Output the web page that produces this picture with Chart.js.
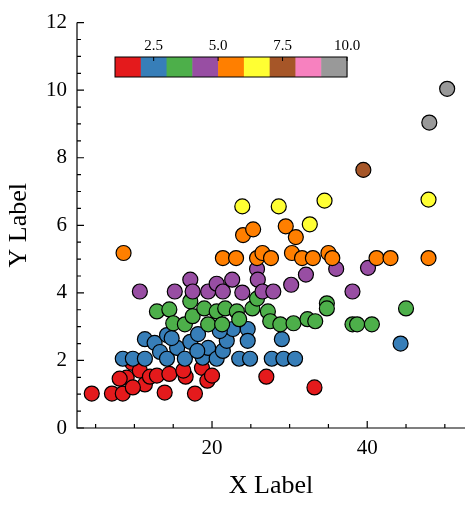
<!DOCTYPE html>
<html>
<head>
<meta charset="utf-8">
<script src="https://cdn.jsdelivr.net/npm/chart.js@4"></script>
<style>
  html, body { margin: 0; padding: 0; background: #fff; }
  #wrap { width: 474px; height: 506px; }
</style>
</head>
<body>
<div id="wrap"><canvas id="chart"></canvas></div>
<script>
// --- Datos ---
const xValues = [
  4.5, 7.1, 8.5, 9.7, 9.0, 10.7, 11.35, 12.0, 12.9, 13.9, 14.5, 16.6, 17.8, 18.7, 19.4, 20.0, 9.8, 27.0, 33.2, 16.3, 8.1,
  8.5, 9.8, 11.35, 11.35, 12.6, 14.2, 13.3, 14.2, 15.5, 16.5, 17.2, 18.2, 18.8, 19.5, 20.6, 21.4, 21.9, 22.7, 24.6, 24.6, 23.5, 24.9, 27.7, 29.0, 29.2, 30.7, 21.0, 18.1, 14.8, 44.3,
  12.9, 14.5, 15.0, 16.5, 17.2, 17.5, 19.0, 19.5, 20.6, 21.3, 21.7, 23.2, 23.5, 25.2, 25.8, 27.2, 27.5, 28.8, 30.5, 32.3, 33.3, 34.8, 34.8, 38.1, 38.7, 40.6, 45.0,
  10.7, 15.2, 17.2, 17.5, 19.5, 20.6, 21.4, 22.6, 23.9, 25.8, 25.9, 26.5, 27.9, 30.2, 32.1, 36.0, 38.1, 40.1,
  21.4, 23.1, 25.8, 26.5, 27.6, 30.3, 31.6, 33.0, 35.0, 35.5, 41.2, 43.0, 47.9, 24.0, 25.3, 29.5, 30.8, 8.6,
  23.9, 28.6, 34.5, 32.6, 47.9,
  39.5,
  48.0, 50.3
];
const yValues = [
  1.02, 1.02, 1.02, 1.93, 1.49, 1.7, 1.29, 1.52, 1.55, 1.05, 1.6, 1.52, 1.02, 1.78, 1.4, 1.55, 1.2, 1.52, 1.2, 1.7, 1.46,
  2.05, 2.05, 2.05, 2.63, 2.52, 2.75, 2.25, 2.05, 2.37, 2.05, 2.55, 2.78, 2.08, 2.37, 2.05, 2.28, 2.58, 2.93, 2.93, 2.58, 2.05, 2.05, 2.05, 2.63, 2.05, 2.05, 2.87, 2.28, 2.66, 2.5,
  3.45, 3.51, 3.1, 3.07, 3.75, 3.31, 3.54, 3.07, 3.45, 3.07, 3.54, 3.45, 3.22, 3.54, 3.83, 3.45, 3.16, 3.07, 3.1, 3.22, 3.16, 3.69, 3.54, 3.07, 3.07, 3.07, 3.54,
  4.04, 4.04, 4.39, 4.04, 4.04, 4.27, 4.04, 4.39, 4.01, 4.71, 4.39, 4.04, 4.04, 4.24, 4.54, 4.71, 4.04, 4.74,
  5.03, 5.03, 5.03, 5.18, 5.03, 5.18, 5.03, 5.03, 5.18, 5.03, 5.03, 5.03, 5.03, 5.71, 5.88, 5.97, 5.65, 5.18,
  6.56, 6.56, 6.73, 6.03, 6.76,
  7.64,
  9.04, 10.04
];
const palette = ["#e41a1c", "#377eb8", "#4daf4a", "#984ea3", "#ff7f00", "#ffff33", "#a65628", "#f781bf", "#999999"];
const colorbarTicks = [2.5, 5.0, 7.5, 10.0];
const xTicks = [20, 40];
const yTicks = [0, 2, 4, 6, 8, 10, 12];

const points = xValues.map((x, i) => ({ x: x, y: yValues[i] }));
const pointColors = yValues.map(y => palette[Math.min(8, Math.max(0, Math.floor(y) - 1))]);

const serif = "'Liberation Serif', 'DejaVu Serif', serif";

// --- Ticks hacia adentro + barra de color ---
const extras = {
  id: "extras",
  afterDraw(chart) {
    const ctx = chart.ctx;
    const a = chart.chartArea;
    const xs = chart.scales.x, ys = chart.scales.y;
    ctx.save();
    ctx.strokeStyle = "#000";
    ctx.lineWidth = 1.2;
    ctx.beginPath();
    ctx.moveTo(a.left, a.top); ctx.lineTo(a.left, a.bottom); ctx.lineTo(a.right, a.bottom);
    ctx.stroke();
    ctx.beginPath();
    for (let v = 5; v < xs.max; v += 5) {
      const p = xs.getPixelForValue(v);
      if (p < a.left) continue;
      const len = v % 20 === 0 ? 7 : 4;
      ctx.moveTo(p, a.bottom); ctx.lineTo(p, a.bottom - len);
    }
    for (let v = 0; v <= 12.001; v += 0.5) {
      const p = ys.getPixelForValue(v);
      const len = Math.abs(v % 2) < 1e-6 ? 7 : 4;
      ctx.moveTo(a.left, p); ctx.lineTo(a.left + len, p);
    }
    ctx.stroke();

    // barra de color
    const cx0 = 115, cx1 = 347, cy0 = 57, cy1 = 77;
    const w = (cx1 - cx0) / palette.length;
    palette.forEach((c, i) => {
      ctx.fillStyle = c;
      ctx.fillRect(cx0 + i * w, cy0, w + 0.5, cy1 - cy0);
    });
    ctx.strokeStyle = "#000";
    ctx.lineWidth = 1;
    ctx.strokeRect(cx0, cy0, cx1 - cx0, cy1 - cy0);
    ctx.fillStyle = "#000";
    ctx.font = "15px " + serif;
    ctx.textAlign = "center";
    ctx.textBaseline = "bottom";
    ctx.beginPath();
    colorbarTicks.forEach(t => {
      const p = cx0 + (t - 1) / 9 * (cx1 - cx0);
      ctx.moveTo(p, cy0); ctx.lineTo(p, cy0 + 4);
      ctx.fillText(t.toFixed(1), p, cy0 - 3);
    });
    ctx.stroke();
    ctx.restore();
  }
};

new Chart(document.getElementById("chart"), {
  type: "scatter",
  data: {
    datasets: [{
      data: points,
      backgroundColor: pointColors,
      borderColor: "#000",
      borderWidth: 1.2,
      pointRadius: 7.5,
      pointHoverRadius: 7.5
    }]
  },
  options: {
    responsive: true,
    maintainAspectRatio: false,
    animation: false,
    layout: { padding: { top: 18, right: 9, left: 0, bottom: 0 } },
    plugins: { legend: { display: false }, tooltip: { enabled: false } },
    scales: {
      x: {
        type: "linear",
        min: 2.6,
        max: 52.6,
        afterBuildTicks: s => { s.ticks = xTicks.map(v => ({ value: v })); },
        afterFit: s => { s.height = 78; },
        grid: { display: false, drawTicks: false },
        border: { display: false },
        ticks: { color: "#000", font: { family: serif, size: 21 }, padding: 8, maxRotation: 0 },
        title: { display: true, text: "X Label", color: "#000", font: { family: serif, size: 26 }, padding: { top: 6 } }
      },
      y: {
        type: "linear",
        min: 0,
        max: 12,
        afterBuildTicks: s => { s.ticks = yTicks.map(v => ({ value: v })); },
        afterFit: s => { s.width = 77; },
        grid: { display: false, drawTicks: false },
        border: { display: false },
        ticks: { color: "#000", font: { family: serif, size: 21 }, padding: 10 },
        title: { display: true, text: "Y Label", color: "#000", font: { family: serif, size: 26 }, padding: { bottom: 4 } }
      }
    }
  },
  plugins: [extras]
});
</script>
</body>
</html>
